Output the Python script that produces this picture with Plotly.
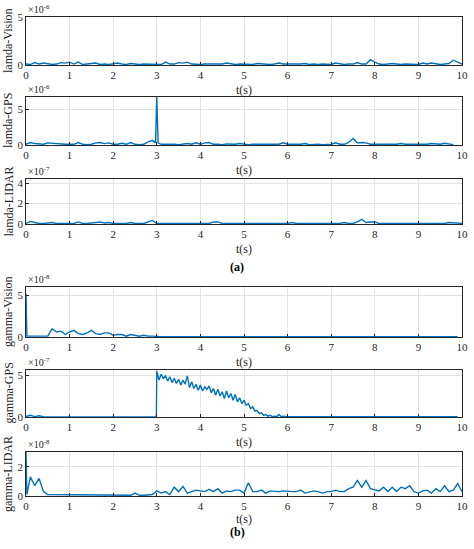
import numpy as np
import plotly.graph_objects as go

t = [round(i * 0.1, 2) for i in range(101)]

lamda_vision = [0.1,0.05,0.25,0.1,0.2,0.1,0.05,0.1,0.25,0.2,0.3,0.1,0.3,0.05,0.1,0.1,0.2,0.05,0.1,0.05,
                0.1,0.2,0.1,0.05,0.15,0.1,0.05,0.1,0.1,0.05,0.1,0.05,0.3,0.1,0.1,0.25,0.2,0.3,0.1,0.05,
                0.05,0.1,0.1,0.05,0.1,0.1,0.2,0.1,0.05,0.1,0.1,0.1,0.05,0.15,0.1,0.1,0.05,0.1,0.2,0.1,
                0.1,0.05,0.1,0.1,0.15,0.05,0.1,0.05,0.1,0.1,0.05,0.2,0.1,0.05,0.1,0.1,0.25,0.1,0.1,0.55,
                0.3,0.1,0.05,0.1,0.15,0.1,0.05,0.1,0.1,0.1,0.05,0.2,0.1,0.2,0.1,0.05,0.1,0.15,0.5,0.3,0.1]

t_lgps = t[:30] + [2.97, 3.0, 3.03] + t[31:]
lamda_gps = [0.1,0.35,0.2,0.1,0.1,0.3,0.25,0.1,0.05,0.1,0.1,0.1,0.35,0.1,0.05,0.1,0.3,0.35,0.2,0.3,
             0.1,0.1,0.25,0.1,0.35,0.1,0.05,0.1,0.45,0.65,0.3,6.7,0.3,
             0.1,0.1,0.15,0.1,0.05,0.1,0.2,0.1,0.3,0.1,0.3,0.35,0.1,0.1,0.05,0.15,0.1,0.1,0.2,0.1,0.05,
             0.1,0.05,0.1,0.1,0.05,0.1,0.1,0.3,0.1,0.05,0.1,0.1,0.2,0.05,0.1,0.1,0.05,0.1,0.1,0.3,0.1,
             0.1,0.35,0.9,0.3,0.35,0.3,0.1,0.05,0.1,0.1,0.05,0.1,0.1,0.2,0.1,0.1,0.15,0.1,0.05,0.1,0.2,
             0.1,0.1,0.25,0.1,0.05]

lamda_lidar = [0.05,0.25,0.15,0.05,0.05,0.1,0.15,0.05,0.05,0.05,0.05,0.05,0.2,0.05,0.05,0.1,0.15,0.2,0.1,0.15,
               0.05,0.05,0.1,0.05,0.15,0.05,0.05,0.05,0.2,0.35,0.05,0.05,0.05,0.05,0.1,0.05,0.05,0.05,0.05,0.05,
               0.05,0.05,0.05,0.2,0.2,0.05,0.05,0.05,0.05,0.05,0.05,0.1,0.05,0.05,0.05,0.05,0.05,0.05,0.05,0.05,
               0.05,0.15,0.05,0.05,0.05,0.05,0.1,0.05,0.05,0.05,0.05,0.05,0.05,0.15,0.05,0.05,0.2,0.45,0.15,0.2,
               0.2,0.05,0.05,0.05,0.05,0.05,0.05,0.05,0.1,0.05,0.05,0.05,0.05,0.05,0.05,0.1,0.05,0.15,0.1,0.05,0.05]

t_gvis = [0.0, 0.02] + t[1:]
gamma_vision = [5.2,0.1,0.1,0.1,0.1,0.1,0.1,1.0,0.6,0.7,0.3,0.6,0.8,0.4,0.3,0.5,0.8,0.4,0.3,0.5,
                0.5,0.2,0.3,0.3,0.1,0.3,0.2,0.1,0.2,0.1,0.1,0.05,0.05,0.05,0.05,0.1,0.05,0.05,0.05,0.05,0.05,
                0.05,0.05,0.05,0.05,0.05,0.05,0.05,0.05,0.05,0.05,0.05,0.05,0.05,0.05,0.05,0.05,0.05,0.05,0.05,
                0.05,0.05,0.05,0.05,0.05,0.05,0.05,0.05,0.05,0.05,0.05,0.05,0.05,0.05,0.05,0.05,0.05,0.05,0.05,0.05,
                0.05,0.05,0.05,0.05,0.05,0.05,0.05,0.05,0.05,0.05,0.05,0.05,0.05,0.05,0.05,0.05,0.05,0.05,0.05,0.05,0.05]

t_ggps = t[:30] + [2.99, 3.0] + [round(3.0 + i * 0.05, 2) for i in range(1, 61)] + t[61:]
gamma_gps = [0.05,0.2,0.05,0.15,0.05,0.05,0.05,0.05,0.05,0.05,0.05,0.05,0.05,0.05,0.05,0.05,0.05,0.05,0.05,0.05,
             0.05,0.05,0.05,0.05,0.05,0.05,0.05,0.05,0.05,0.05,0.0,
             5.5,4.4,5.1,4.6,4.9,4.3,4.8,4.1,4.6,4.0,4.5,3.8,4.4,3.9,4.9,3.5,4.2,3.4,3.9,3.2,
             3.8,3.1,3.6,3.3,3.7,2.9,3.4,2.6,3.3,2.5,3.0,2.2,3.1,2.3,2.8,2.0,2.7,1.8,2.3,1.6,
             2.0,1.4,1.6,1.0,1.2,0.7,0.8,0.4,0.5,0.2,0.3,0.1,0.2,0.05,0.1,0.05,0.3,0.05,0.1,0.05,
             0.05,0.05,0.05,0.05,0.05,0.05,0.05,0.05,0.05,0.05,0.05,0.05,0.05,0.05,0.05,0.05,0.05,0.1,0.05,0.05,
             0.05,0.05,0.05,0.05,0.05,0.05,0.05,0.05,0.05,0.05,0.05,0.05,0.05,0.05,0.05,0.05,0.05,0.05,0.05,0.05]

t_glid = [0.0, 0.02] + t[1:]
gamma_lidar = [3.0,0.1,1.3,0.7,1.2,0.3,0.1,0.1,0.05,0.05,0.05,0.05,0.05,0.05,0.05,0.05,0.05,0.1,0.1,0.05,0.1,
               0.05,0.1,0.05,0.1,0.05,0.2,0.05,0.05,0.1,0.1,0.35,0.2,0.3,0.1,0.6,0.3,0.65,0.2,0.3,0.4,
               0.35,0.3,0.45,0.3,0.5,0.2,0.35,0.3,0.4,0.4,0.2,0.9,0.3,0.3,0.4,0.2,0.35,0.3,0.3,0.35,
               0.3,0.3,0.3,0.4,0.2,0.3,0.35,0.3,0.2,0.3,0.3,0.4,0.3,0.3,0.5,0.6,1.05,0.6,1.05,0.5,
               0.4,0.35,0.6,0.3,0.6,0.3,0.6,0.5,0.7,0.3,0.2,0.35,0.4,0.2,0.5,0.3,0.7,0.3,0.4,0.85,0.3]

series = [
    (t, lamda_vision, "lamda-Vision", [0, 5], [0, 5], "×10<sup>-6</sup>"),
    (t_lgps, lamda_gps, "lamda-GPS", [0, 6.7], [0, 5], "×10<sup>-6</sup>"),
    (t, lamda_lidar, "lamda-LIDAR", [0, 4.4], [0, 2, 4], "×10<sup>-7</sup>"),
    (t_gvis, gamma_vision, "gamma-Vision", [0, 6], [0, 5], "×10<sup>-8</sup>"),
    (t_ggps, gamma_gps, "gamma-GPS", [0, 5.6], [0, 5], "×10<sup>-7</sup>"),
    (t_glid, gamma_lidar, "gamma-LIDAR", [0, 3], [0, 2], "×10<sup>-8</sup>"),
]

H = 549.0
W = 474.0
panels = [(17, 65), (97, 145), (179, 224), (287, 337), (370, 417), (452, 496)]
tlab_off = [25, 25, 25, 25, 25, 23]
x0, x1 = 26 / W, 462 / W

fig = go.Figure()
font = dict(family="Liberation Serif", size=11, color="#262626")
tfont = dict(family="Liberation Serif", size=12, color="#262626")
for i, (tt, yy, name, rng, ticks, exp) in enumerate(series):
    n = i + 1
    xa = "x" if n == 1 else f"x{n}"
    ya = "y" if n == 1 else f"y{n}"
    fig.add_trace(go.Scatter(x=tt, y=yy, mode="lines", line=dict(color="#0072BD", width=1.4),
                             xaxis=xa, yaxis=ya, showlegend=False))
    top, bot = panels[i]
    dom = [1 - bot / H, 1 - top / H]
    axcommon = dict(showline=True, mirror=True, linecolor="#262626", linewidth=0.8,
                    showgrid=True, gridcolor="#e3e3e3", zeroline=False, ticks="inside",
                    ticklen=3, tickcolor="#262626", tickfont=font, automargin=False)
    fig.layout[f"xaxis{'' if n == 1 else n}"] = dict(
        domain=[x0, x1], range=[0, 10], anchor=ya, tickvals=list(range(11)), **axcommon)
    fig.layout[f"yaxis{'' if n == 1 else n}"] = dict(
        domain=dom, range=rng, anchor=xa, tickvals=ticks, **axcommon)
    fig.add_annotation(text=name, x=8 / W, y=(dom[0] + dom[1]) / 2, xref="paper", yref="paper",
                       textangle=-90, showarrow=False, font=tfont, xanchor="center", yanchor="middle")
    fig.add_annotation(text="t(s)", x=(x0 + x1) / 2, y=1 - (bot + tlab_off[i]) / H, xref="paper",
                       yref="paper", yanchor="middle", showarrow=False, font=tfont)
    fig.add_annotation(text=exp, x=x0, y=dom[1], xref="paper", yref="paper",
                       xanchor="left", yanchor="bottom", showarrow=False,
                       font=dict(family="Liberation Serif", size=10, color="#262626"))

fig.add_annotation(text="<b>(a)</b>", x=0.5, y=1 - 267 / H, xref="paper", yref="paper",
                   showarrow=False, font=dict(family="Liberation Serif", size=12, color="black"))
fig.add_annotation(text="<b>(b)</b>", x=0.5, y=1 - 541 / H, xref="paper", yref="paper",
                   showarrow=False, font=dict(family="Liberation Serif", size=12, color="black"))

fig.update_layout(width=474, height=549, margin=dict(l=0, r=0, t=0, b=0),
                  paper_bgcolor="white", plot_bgcolor="white")
fig.write_html("out.html", config={"displayModeBar": False},
               post_script="document.body.style.margin='0';document.body.style.overflow='hidden';")
